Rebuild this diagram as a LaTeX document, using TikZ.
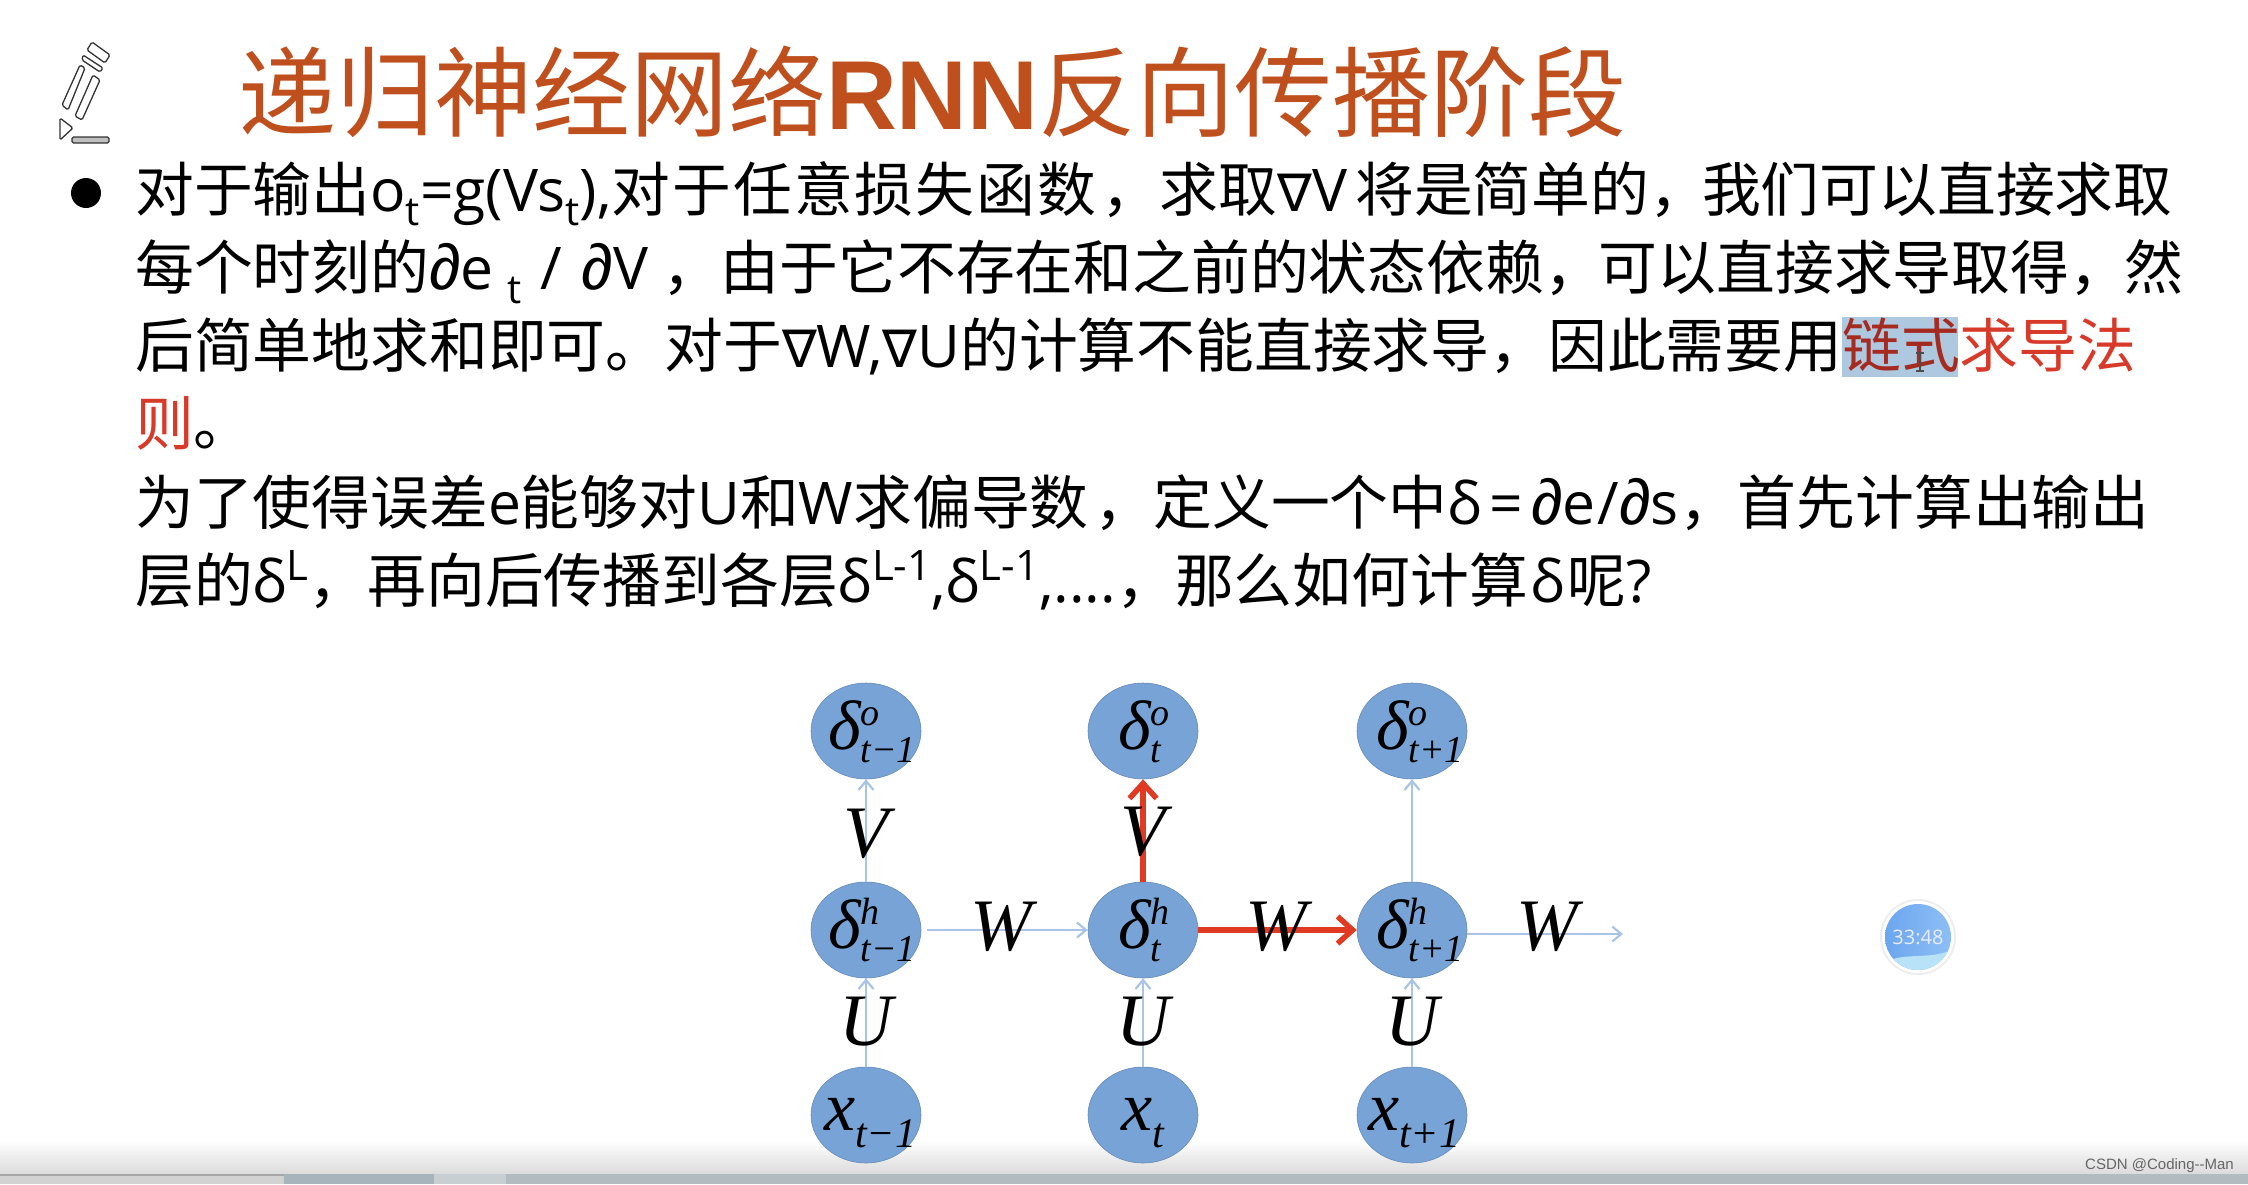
\documentclass[tikz,border=0pt]{standalone}
\usepackage{fontspec}
\usetikzlibrary{arrows.meta,shapes.geometric}
\setmainfont{Noto Sans CJK SC}
\newfontfamily\lat{Open Sans}
\newfontfamily\tms{Liberation Serif}
\newfontfamily\arial{Liberation Sans}
\newfontfamily\dejav{DejaVu Sans}
\newcommand{\La}[1]{{\lat #1}}
\newcommand{\Dd}{{\fontsize{64}{64}\selectfont\arial\itshape ∂}}
\newcommand{\Nab}{{\fontsize{52}{52}\selectfont\dejav ∇}}
\newcommand{\Sb}[1]{\raisebox{-14pt}{\fontsize{40}{40}\selectfont\lat #1}}
\newcommand{\Sp}[1]{\raisebox{22pt}{\fontsize{42}{42}\selectfont\lat #1}}
\newcommand{\Ks}{\hspace{2pt}}
% #1 left offset, #2 superscript, #3 subscript
\newcommand{\Nd}[3]{\smash{\makebox[0pt][l]{\hspace*{#1pt}\raisebox{-18pt}{{\fontsize{70}{70}\selectfont\tms\itshape δ}\rlap{\raisebox{24pt}{\fontsize{38}{38}\selectfont\tms\itshape #2}}\raisebox{-13pt}{\fontsize{38}{38}\selectfont\tms\itshape #3}}}}}
\newcommand{\Nx}[2]{\smash{\makebox[0pt][l]{\hspace*{#1pt}\raisebox{-15pt}{{\fontsize{70}{70}\selectfont\tms\itshape x}\raisebox{-17pt}{\fontsize{42}{42}\selectfont\tms\itshape #2}}}}}
\definecolor{titlec}{HTML}{C04F1E}
\definecolor{redc}{HTML}{D83A2A}
\definecolor{redd}{HTML}{A52A20}
\definecolor{hilite}{HTML}{AEC8E0}
\definecolor{nodec}{HTML}{78A3D6}
\definecolor{linkc}{HTML}{A9C4E6}
\definecolor{arrowred}{HTML}{E03A22}
\definecolor{barA}{HTML}{D2D2D2}
\definecolor{barB}{HTML}{A8B4BB}
\definecolor{barC}{HTML}{C8CFD2}
\definecolor{barD}{HTML}{B2BBBF}
\definecolor{timerA}{HTML}{6CA6EE}
\definecolor{timerB}{HTML}{8DBFF5}
\definecolor{timerC}{HTML}{B8E2F8}
\tikzset{
  txt/.style={anchor=base west,inner sep=0pt,font=\fontsize{58.8}{58.8}\selectfont},
  nn/.style={ellipse,fill=nodec,draw=nodec!85!black,line width=.6pt,minimum width=110pt,minimum height=96pt,inner sep=0pt},
  lnk/.style={draw=linkc,line width=2.5pt,-{Straight Barb[length=9pt,width=15pt,line width=2.2pt]}},
  rlnk/.style={draw=arrowred,line width=5.5pt,-{Straight Barb[length=15pt,width=27pt,line width=5.5pt]}},
  lab/.style={inner sep=0pt,font=\fontsize{74}{74}\selectfont\tms\itshape},
  pen/.style={draw=black!80,line width=1.3pt,line join=round,rounded corners=1.5pt}
}
\begin{document}
\begin{tikzpicture}[x=1pt,y=-1pt]
\useasboundingbox (0,0) rectangle (2248,1184);
\fill[white] (0,0) rectangle (2248,1184);
% bottom bar
\shade[top color=white,bottom color=black!14] (0,1140) rectangle (2248,1174);
\fill[barD] (0,1174) rectangle (2248,1184);
\fill[barA] (0,1174) rectangle (284,1184);
\fill[barB] (284,1174) rectangle (434,1184);
\fill[barC] (434,1174) rectangle (506,1184);
\fill[black!35] (0,1174) rectangle (284,1176);
% pencil
\draw[pen] (92,42)--(110,55)--(105,63)--(87,50)--cycle;
\draw[pen] (83,55)--(103,68)--(100,72)--(82,60)--cycle;
\draw[pen] (80,65)--(85,68)--(68,110)--(62,105)--cycle;
\draw[pen] (93,75)--(100,80)--(82,120)--(75,116)--cycle;
\draw[pen] (60,118)--(73,128)--(60,140)--cycle;
\draw[pen,fill=black!25] (72,137) rectangle (109,143);
% title
\node[anchor=base west,inner sep=0pt,text=titlec,font=\fontsize{98}{98}\selectfont] (title) at (238,129) {递归神经网络{\bfseries\arial RNN}反向传播阶段};
% bullet
\fill (86,193) circle (15pt);
% text
\node[txt] (l1) at (135,211.5) {对于输出\La{o}\Sb{t}\La{=g(Vs}\Sb{t}\La{),}对\Ks 于\Ks 任\Ks 意\Ks 损\Ks 失\Ks 函\Ks 数\hspace{5pt}，求取\Nab\La{V}\hspace{8pt}将是简单的，\hspace{-6pt}我们可以直接求取};
\node[txt] (l2) at (135,289.5) {每个时刻的\Dd\La{e}\hspace{3pt}\Sb{ t}\hspace{4pt}\La{ / }\hspace{4pt}\Dd\La{V}\hspace{14pt}，由于它不存在和之前的状态依赖，\hspace{-4pt}可以直接求导取得，\hspace{-4pt}然};
\fill[hilite] (1842,317) rectangle (1958,377);
\node[txt] (l3) at (135,367.5) {后简单地求和即可。对于\Nab\La{W,}\Nab\La{U}的计算不能直接求导，因此需要用\textcolor{redd}{链式}\textcolor{redc}{求导法}};
\draw[black!70,line width=1.2pt] (1920,353)--(1920,371) (1916,353)--(1924,353) (1916,371)--(1924,371);
\node[txt,text=redc] (l4a) at (135,445.5) {则};
\node[txt] (l4b) at (193,445.5) {。};
\node[txt] (l5) at (135,524.5) {为了使得误差\La{e}能够对\La{U}和\La{W}求偏导数\hspace{6pt}，定义一个中\La{δ}\hspace{8pt}\La{=}\hspace{8pt}\Dd\La{e}\hspace{2pt}\La{/}\Dd\La{s}，首先计算出输出};
\node[txt] (l6) at (135,602.5) {层的\La{δ}\Sp{L}，再向后传播到各层\La{δ}\Sp{L-1}\La{,δ}\Sp{L-1}\La{,....}，那么如何计算\hspace{3pt}\La{δ}\hspace{3pt}呢\La{?}};
% diagram nodes
\node[nn] (o1) at (866,731) {\Nd{-38}{o}{t−1}};
\node[nn] (o2) at (1143,731) {\Nd{-25}{o}{t}};
\node[nn] (o3) at (1412,731) {\Nd{-36}{o}{t+1}};
\node[nn] (h1) at (866,930) {\Nd{-38}{h}{t−1}};
\node[nn] (h2) at (1143,930) {\Nd{-25}{h}{t}};
\node[nn] (h3) at (1412,930) {\Nd{-36}{h}{t+1}};
\node[nn] (x1) at (866,1115) {\Nx{-42}{t−1}};
\node[nn] (x2) at (1143,1115) {\Nx{-22}{t}};
\node[nn] (x3) at (1412,1115) {\Nx{-44}{t+1}};
\coordinate (end) at (1623,934);
% connectors
\draw[lnk] (x1)--(h1);
\draw[lnk] (x2)--(h2);
\draw[lnk] (x3)--(h3);
\draw[lnk] (h1)--(o1);
\draw[lnk] (h3)--(o3);
\draw[lnk,shorten <=6pt] (h1)--(h2);
\draw[lnk] (h3.east |- end)--(end);
\draw[rlnk] (h2)--(o2);
\draw[rlnk] (h2)--(h3);
% labels
\node[lab] (v1) at (866,834) {V};
\node[lab] (v2) at (1143,832) {V};
\node[lab] (w1) at (1001,927) {W};
\node[lab] (w2) at (1276,927) {W};
\node[lab] (w3) at (1547,927) {W};
\node[lab] (u1) at (866,1022) {U};
\node[lab] (u2) at (1143,1022) {U};
\node[lab] (u3) at (1412,1022) {U};
% timer
\fill[black!7] (1918,937) circle (38pt);
\fill[white] (1918,937) circle (36pt);
\begin{scope}
\clip (1918,937) circle (33pt);
\shade[left color=timerA,right color=timerB] (1885,904) rectangle (1951,970);
\fill[timerC] (1885,962) .. controls (1905,952) and (1930,960) .. (1951,950) -- (1951,970) -- (1885,970) -- cycle;
\end{scope}
\node[inner sep=0pt,text=white!92!blue,font=\fontsize{20}{20}\selectfont\lat] (timer) at (1918,937) {33:48};
% watermark
\node[anchor=east,inner sep=0pt,text=black!60,font=\fontsize{15}{15}\selectfont\arial] (wm) at (2234,1166) {CSDN @Coding--Man};
\end{tikzpicture}
\end{document}
